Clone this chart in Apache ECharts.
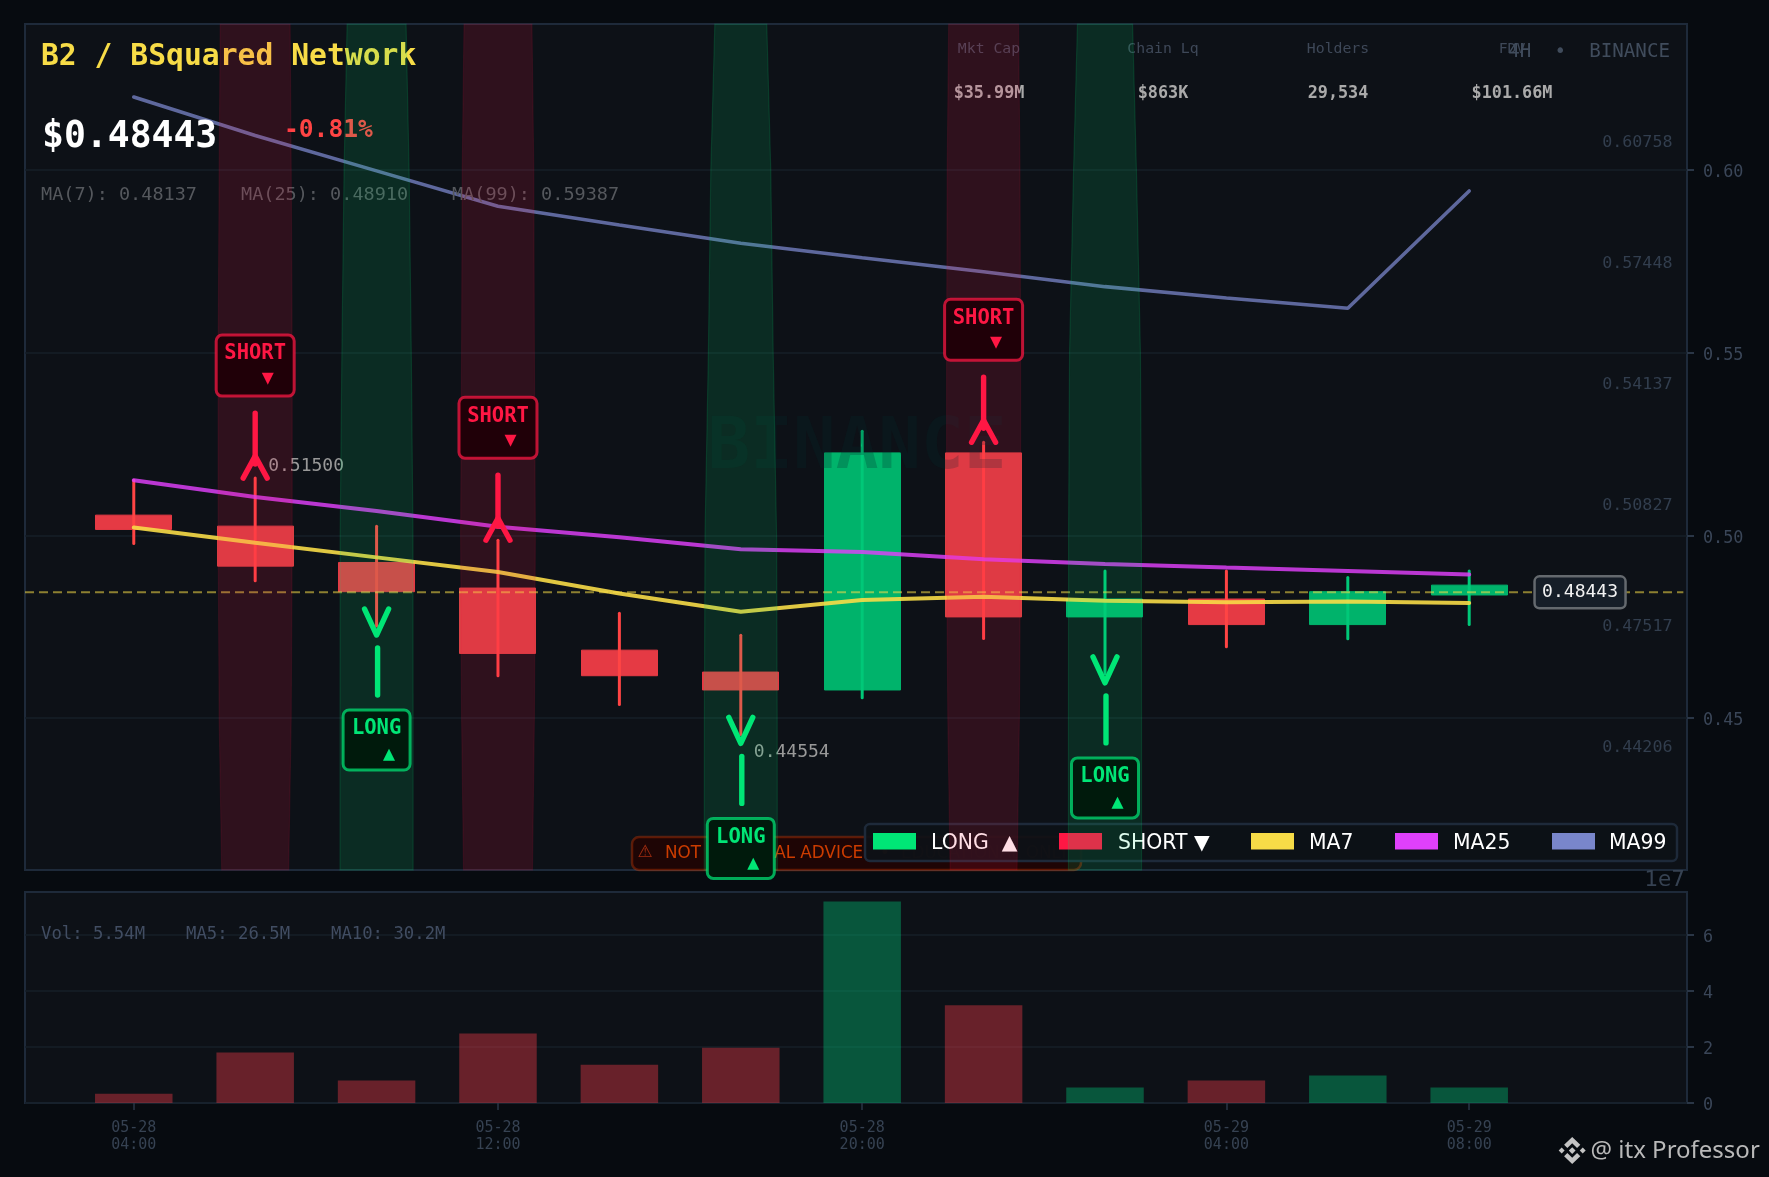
<!DOCTYPE html>
<html>
<head>
<meta charset="utf-8">
<style>html,body{margin:0;padding:0;background:#070b10}#c{width:1769px;height:1177px}</style>
<script src="https://cdn.jsdelivr.net/npm/echarts@6/dist/echarts.min.js"></script>
</head>
<body>
<div id="c"></div>
<script>
// ---- chart values ----
const candleIndex = [0,1,2,3,4,5,6,7,8,9,10,11];
const candleOpen  = [.50556,.50255,.4926,.4856,.4686,.4626,.4577,.5226,.4777,.4826,.4756,.4837];
const candleClose = [.50164,.4916,.4846,.4677,.4616,.4577,.5226,.4777,.4826,.4756,.4846,.4864];
const candleLow   = [.4978,.4876,.4752,.4616,.4537,.44554,.4556,.4718,.4621,.4695,.4717,.4756];
const candleHigh  = [.5151,.5157,.5025,.4987,.4787,.4727,.5285,.5255,.4903,.4903,.4885,.4903];
const volumes = [.33e7,1.80e7,.80e7,2.48e7,1.37e7,1.97e7,7.2e7,3.49e7,.55e7,.80e7,.98e7,.55e7];
const ma7  = [.5022,.4980,.4940,.4900,.4841,.4791,.4823,.4832,.4821,.4817,.4819,.4815];
const ma25 = [.5151,.5105,.5067,.5024,.4995,.4962,.4955,.4935,.4922,.4912,.4903,.4893];
const ma99 = [.6200,.6095,.5998,.5901,.5850,.5800,.5760,.5722,.5681,.5650,.5622,.5943];
const lastPrice = 0.48443;
const shortSignals = [1,3,7];
const longSignals = [2,5,8];
const bandProfilePrices = [.64,.60,.55,.50,.45,.4084];
const redBandHalfWidth = [
  [.288,.297,.305,.305,.297,.276],
  [.280,.295,.300,.308,.300,.284],
  [.288,.300,.305,.305,.295,.276]];
const greenBandHalfWidth = [
  [.243,.268,.286,.300,.301,.301],
  [.214,.247,.267,.295,.300,.301],
  [.227,.259,.292,.300,.301,.301]];
const sideLevels = [.60758,.57448,.54137,.50827,.47517,.44206];
const priceTicks = [.45,.50,.55,.60];
const volumeTicks = [0,2e7,4e7,6e7];
const timeTickIndex = [0,3,6,9,11];
const timeTickLabels = ['05-28\n04:00','05-28\n12:00','05-28\n20:00','05-29\n04:00','05-29\n08:00'];
const extremeLabels = [{i:1,text:'0.51500',price:.515,up:true},{i:5,text:'0.44554',price:.44554,up:false}];
const statNames = ['Mkt Cap','Chain Lq','Holders','FDV'];
const statValues = ['$35.99M','$863K','29,534','$101.66M'];
const legendNames = ['LONG  ▲','SHORT ▼','MA7','MA25','MA99'];

// ---- style ----
const MONO = '"DejaVu Sans Mono"', SANS = '"DejaVu Sans"';
const RED = '#e53a44', RED_IN_BAND = '#da4044', GREEN = '#00b36b', SIG_RED = '#ff1744', SIG_GREEN = '#00e676';
const XMIN = -0.896, XMAX = 12.794;
const Z_TEXT = 5, Z_BAND = 10, Z_SIG = 12;

function T(x,y,text,font,fill,align,z){
  return {type:'text',z:z==null?Z_TEXT:z,silent:true,style:{x,y,text,font,fill,textAlign:align||'left',textVerticalAlign:'middle'}};
}
function R(x,y,w,h,fill,stroke,lw,r,z){
  return {type:'rect',z:z==null?Z_TEXT:z,silent:true,shape:{x,y,width:w,height:h,r:r||0},style:{fill,stroke:stroke||null,lineWidth:lw||0}};
}
function P(points,fill,z){return {type:'polygon',z:z==null?Z_TEXT:z,silent:true,shape:{points},style:{fill}};}

const graphics = [];
graphics.push(T(857,450,'BINANCE','bold 71px '+MONO,'rgba(5,45,45,.25)','center',4));
graphics.push(T(41,57,'B2 / BSquared Network','bold 29.7px '+MONO,'#f7dc47'));
graphics.push(T(42,138,'$0.48443','bold 36.4px '+MONO,'#ffffff'));
graphics.push(T(284,131,'-0.81%','bold 24.6px '+MONO,'#ff4444'));
graphics.push(T(41,195,'MA(7): 0.48137','18.5px '+MONO,'#55585d'));
graphics.push(T(241,195,'MA(25): 0.48910','18.5px '+MONO,'#55585d'));
graphics.push(T(452,195,'MA(99): 0.59387','18.5px '+MONO,'#55585d'));
[989,1163,1338,1512].forEach((x,k)=>{
  graphics.push(T(x,49.5,statNames[k],'14.8px '+MONO,'#3e4858','center'));
  graphics.push(T(x,93.5,statValues[k],'bold 16.8px '+MONO,'#aaaaaa','center'));
});
graphics.push(T(1670,52,'4H  •  BINANCE','19.2px '+MONO,'#404c5c','right'));
graphics.push(T(41,935,'Vol: 5.54M','17.3px '+MONO,'#414d62'));
graphics.push(T(186,935,'MA5: 26.5M','17.3px '+MONO,'#414d62'));
graphics.push(T(331,935,'MA10: 30.2M','17.3px '+MONO,'#414d62'));
graphics.push(T(1685,880,'1e7','21.5px '+SANS,'#364252','right'));
graphics.push(R(632,837,449,33,'#1e0505','rgba(255,69,0,.3)',2.5,7,5));
graphics.push(T(645,853,'⚠','17px '+SANS,'#a02c10','center',5));
graphics.push(T(665,854,'NOT FINANCIAL ADVICE','16.8px '+SANS,'#cc3c00','left',5));
graphics.push(T(885,854,'•','16.8px '+SANS,'#6a2000','center',5));
graphics.push(T(901,854,'EDUCATIONAL ONLY','16.8px '+SANS,'#4a1800','left',5));
graphics.push(R(865,824,812,37,'rgba(13,17,23,.93)','#1e2a3a',2.5,5,6));
[[873,SIG_GREEN],[1059,SIG_RED],[1251,'#f7dc47'],[1395,'#e040fb'],[1552,'#7986cb']].forEach((p,k)=>{
  graphics.push(R(p[0],833,43,16.5,p[1],null,0,0,7));
  graphics.push(T([931,1118,1309,1453,1609][k],844,legendNames[k],'20.4px '+SANS,'#ffffff','left',7));
});
graphics.push(T(1590.5,1151,'@ itx Professor','24px "Noto Sans"','#b9b9b9'));
(function(){
  const cx=1572.2, cy=1150.5, r=13.5;
  const pts=a=>a.map(p=>[cx+p[0]*r,cy+p[1]*r]);
  const fill='#c4c4c4';
  graphics.push(P(pts([[0,-1],[.6,-.42],[.36,-.18],[0,-.54],[-.36,-.18],[-.6,-.42]]),fill));
  graphics.push(P(pts([[0,1],[.6,.42],[.36,.18],[0,.54],[-.36,.18],[-.6,.42]]),fill));
  graphics.push(P(pts([[-1,0],[-.78,-.22],[-.56,0],[-.78,.22]]),fill));
  graphics.push(P(pts([[1,0],[.78,-.22],[.56,0],[.78,.22]]),fill));
  graphics.push(P(pts([[0,-.25],[.25,0],[0,.25],[-.25,0]]),fill));
})();

// ---- custom renderers ----
function renderWick(params,api){
  const i=params.dataIndex, x=api.coord([i,candleHigh[i]])[0];
  const y1=api.coord([i,candleHigh[i]])[1], y2=api.coord([i,candleLow[i]])[1];
  const up=candleClose[i]>candleOpen[i];
  return {type:'line',shape:{x1:x,y1,x2:x,y2},style:{stroke:up?'#00c878':'#ff4444',lineWidth:3,lineCap:'round'}};
}
function renderBand(kind){
  const table = kind==='red'?redBandHalfWidth:greenBandHalfWidth;
  return function(params,api){
    const i=api.value(0), L=[], Rr=[];
    bandProfilePrices.forEach((p,k)=>{
      const hw=table[params.dataIndex][k];
      Rr.push(api.coord([i+hw,p])); L.unshift(api.coord([i-hw,p]));
    });
    const isR=kind==='red';
    return {type:'polygon',shape:{points:Rr.concat(L)},style:{
      fill:isR?'rgba(255,23,68,.14)':'rgba(0,230,118,.13)',
      stroke:isR?'rgba(255,23,68,.10)':'rgba(0,230,118,.15)',lineWidth:1.2}};
  };
}
function sigPath(pts,color,w){
  return {type:'polyline',shape:{points:pts},style:{stroke:color,lineWidth:w,lineCap:'round',lineJoin:'round',fill:null}};
}
function boxEl(cx,top,w,h,fillC,strokeC,color,word,glyph,glyphDy){
  const mono='"DejaVu Sans Mono"';
  return [
    {type:'rect',shape:{x:cx-w/2,y:top,width:w,height:h,r:6},style:{fill:fillC,stroke:strokeC,lineWidth:3}},
    {type:'text',style:{x:cx,y:top+19,text:word,font:'bold 20.5px '+mono,fill:color,textAlign:'center',textVerticalAlign:'middle'}},
    {type:'text',style:{x:cx+12.5,y:top+glyphDy,text:glyph,font:'bold 20px '+mono,fill:color,textAlign:'center',textVerticalAlign:'middle'}}
  ];
}
function renderShort(params,api){
  const i=api.value(0), p=api.coord([i,candleHigh[i]]), x=p[0], y=p[1];
  return {type:'group',children:[
    sigPath([[x,y-65],[x,y-14]],SIG_RED,5.4),
    sigPath([[x-12,y+0],[x,y-22],[x+12,y+0]],SIG_RED,5.4)
  ].concat(boxEl(x,y-143,78,61,'#200008','rgba(255,23,68,.72)',SIG_RED,'SHORT','▼',44))};
}
function renderLong(params,api){
  const i=api.value(0), p=api.coord([i,candleLow[i]]), x=p[0];
  const tip=p[1]+9;
  return {type:'group',children:[
    sigPath([[x-12,tip-26],[x,tip],[x+12,tip-26]],SIG_GREEN,5.4),
    sigPath([[x+1,tip+13],[x+1,tip+60]],SIG_GREEN,5.4)
  ].concat(boxEl(x,tip+75,67,60,'#001a0c','rgba(0,230,118,.72)',SIG_GREEN,'LONG','▲',45))};
}
function renderSide(params,api){
  const c=api.coord([XMAX,api.value(1)]);
  return {type:'text',style:{x:c[0]-14.5,y:c[1]+.5,text:sideLevels[params.dataIndex].toFixed(5),font:'16.7px "DejaVu Sans Mono"',fill:'#323e4e',textAlign:'right',textVerticalAlign:'middle'}};
}
function renderExtreme(params,api){
  const e=extremeLabels[params.dataIndex], c=api.coord([e.i,e.price]);
  return {type:'text',style:{x:c[0]+13,y:c[1]+(e.up?-14.6:18.4),text:e.text,font:'18px "DejaVu Sans Mono"',fill:'#999999',textAlign:'left',textVerticalAlign:'middle'}};
}
function renderTag(params,api){
  const c=api.coord([api.value(0),api.value(1)]);
  return {type:'group',children:[
    {type:'rect',shape:{x:c[0]-45.5,y:c[1]-16,width:91,height:32,r:5},style:{fill:'#161e28',stroke:'#64696e',lineWidth:2.5}},
    {type:'text',style:{x:c[0],y:c[1],text:lastPrice.toFixed(5),font:'18px "DejaVu Sans Mono"',fill:'#f2f2f2',textAlign:'center',textVerticalAlign:'middle'}}
  ]};
}

const axisLine = {show:false,onZero:false};
const option = {
  animation:false,
  backgroundColor:'#070b10',
  grid:[
    {left:25,right:82,top:24,height:846,show:true,backgroundColor:'#0d1117',borderColor:'#1e2a3a',borderWidth:2},
    {left:25,right:82,top:892,height:211,show:true,backgroundColor:'#0d1117',borderColor:'#1e2a3a',borderWidth:2}
  ],
  xAxis:[
    {type:'value',gridIndex:0,min:XMIN,max:XMAX,show:false,axisLine,splitLine:{show:false}},
    {type:'value',gridIndex:1,min:XMIN,max:XMAX,axisLine,splitLine:{show:false},
     axisTick:{show:true,length:7,customValues:timeTickIndex,lineStyle:{color:'#2a3646',width:1.5}},
     axisLabel:{show:true,customValues:timeTickIndex,margin:17,lineHeight:16.6,color:'#364252',
       fontFamily:'DejaVu Sans Mono',fontSize:15,hideOverlap:false,
       formatter:v=>timeTickLabels[timeTickIndex.indexOf(v)]||''}}
  ],
  yAxis:[
    {type:'value',gridIndex:0,position:'right',min:.40842,max:.64,axisLine,
     axisTick:{show:true,length:7,customValues:priceTicks,lineStyle:{color:'#2a3646',width:2}},
     splitLine:{show:true,lineStyle:{color:'#161f29',width:1.5}},
     axisLabel:{show:true,customValues:priceTicks,margin:16,color:'#3a4658',fontFamily:'DejaVu Sans Mono',fontSize:16.8,verticalAlign:'top',lineHeight:6,
       formatter:v=>v.toFixed(2)}},
    {type:'value',gridIndex:1,position:'right',min:0,max:7.536e7,axisLine,
     axisTick:{show:true,length:7,customValues:volumeTicks,lineStyle:{color:'#2a3646',width:2}},
     splitLine:{show:true,lineStyle:{color:'#161f29',width:1.5}},
     axisLabel:{show:true,customValues:volumeTicks,margin:16,color:'#3a4658',fontFamily:'DejaVu Sans Mono',fontSize:16.8,verticalAlign:'top',lineHeight:6,
       formatter:v=>String(v/1e7)}}
  ],
  graphic:{elements:graphics},
  series:[
    {type:'candlestick',name:'Price',xAxisIndex:0,yAxisIndex:0,z:2,barWidth:76.5,
     encode:{x:0,y:[1,2,3,4]},
     data:candleIndex.map(i=>{
       const inRed=shortSignals.indexOf(i)>=0;
       return {value:[i,candleOpen[i],candleClose[i],candleLow[i],candleHigh[i]],
         itemStyle:inRed?{color0:RED_IN_BAND,borderColor0:RED_IN_BAND}:undefined};
     }),
     itemStyle:{color:GREEN,color0:RED,borderColor:GREEN,borderColor0:RED,borderWidth:1},clip:false},
    {type:'custom',name:'Wicks',xAxisIndex:0,yAxisIndex:0,z:3,renderItem:renderWick,encode:{x:0,y:1},
     data:candleIndex.map(i=>[i,candleHigh[i]])},
    {type:'line',name:'MA7',xAxisIndex:0,yAxisIndex:0,z:4,symbol:'none',lineStyle:{color:'#f7dc47',width:4,opacity:.9,cap:'round'},
     data:candleIndex.map(i=>[i,ma7[i]])},
    {type:'line',name:'MA25',xAxisIndex:0,yAxisIndex:0,z:4,symbol:'none',lineStyle:{color:'#e040fb',width:4,opacity:.82,cap:'round'},
     data:candleIndex.map(i=>[i,ma25[i]])},
    {type:'line',name:'MA99',xAxisIndex:0,yAxisIndex:0,z:4,symbol:'none',lineStyle:{color:'#7986cb',width:3.6,opacity:.75,cap:'round'},
     data:candleIndex.map(i=>[i,ma99[i]])},
    {type:'line',name:'Last',xAxisIndex:0,yAxisIndex:0,z:4,symbol:'none',
     lineStyle:{color:'#f7dc47',width:2,type:[9,5],opacity:.55},
     data:[[XMIN,lastPrice],[XMAX-0.03,lastPrice]]},
    {type:'custom',name:'Side levels',xAxisIndex:0,yAxisIndex:0,z:Z_TEXT,renderItem:renderSide,encode:{x:0,y:1},
     data:sideLevels.map(p=>[XMAX,p]),clip:false},
    {type:'custom',name:'Extremes',xAxisIndex:0,yAxisIndex:0,z:Z_TEXT,renderItem:renderExtreme,encode:{x:0,y:1},
     data:extremeLabels.map(e=>[e.i,e.price]),clip:false},
    {type:'custom',name:'Tag',xAxisIndex:0,yAxisIndex:0,z:Z_TEXT,renderItem:renderTag,encode:{x:0,y:1},
     data:[[11.913,lastPrice]],clip:false},
    {type:'custom',name:'Red bands',xAxisIndex:0,yAxisIndex:0,z:Z_BAND,renderItem:renderBand('red'),encode:{x:0,y:1},
     data:shortSignals.map(i=>[i,.5])},
    {type:'custom',name:'Green bands',xAxisIndex:0,yAxisIndex:0,z:Z_BAND,renderItem:renderBand('green'),encode:{x:0,y:1},
     data:longSignals.map(i=>[i,.5])},
    {type:'custom',name:'SHORT',xAxisIndex:0,yAxisIndex:0,z:Z_SIG,renderItem:renderShort,encode:{x:0,y:1},clip:false,
     data:shortSignals.map(i=>[i,candleHigh[i]])},
    {type:'custom',name:'LONG',xAxisIndex:0,yAxisIndex:0,z:Z_SIG,renderItem:renderLong,encode:{x:0,y:1},clip:false,
     data:longSignals.map(i=>[i,candleLow[i]])},
    {type:'bar',name:'Volume',xAxisIndex:1,yAxisIndex:1,z:2,barWidth:77.5,
     data:candleIndex.map(i=>({value:[i,volumes[i]],itemStyle:{color:candleClose[i]>candleOpen[i]?'rgba(0,200,120,.38)':'rgba(230,57,70,.42)'}}))}
  ]
};
const chart = echarts.init(document.getElementById('c'),null,{renderer:'canvas',width:1769,height:1177});
chart.setOption(option);
</script>
</body>
</html>
